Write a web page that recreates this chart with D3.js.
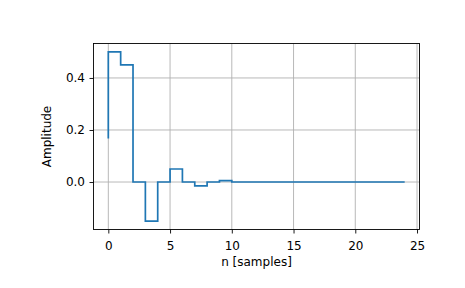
<!DOCTYPE html>
<html>
<head>
<meta charset="utf-8">
<script src="https://cdn.jsdelivr.net/npm/d3@7"></script>
<style>
  body { margin: 0; background: #fff; }
  text { font-family: "DejaVu Sans", sans-serif; }
</style>
</head>
<body>
<div id="chart"></div>
<script>
var width = 465, height = 288;
var margin = {top: 43.5, right: 45.5, bottom: 58.5, left: 93.5};
var fontSize = "12px";

// impulse response, step plot (where='pre')
var samples = d3.range(0, 25);
var amplitude = [0.167, 0.5, 0.45, 0, -0.15, 0, 0.05, 0, -0.015, 0, 0.005,
                 0, 0, 0, 0, 0, 0, 0, 0, 0, 0, 0, 0, 0, 0];
var xTicks = [0, 5, 10, 15, 20, 25];
var yTicks = [0.0, 0.2, 0.4];

var iw = width - margin.left - margin.right,
    ih = height - margin.top - margin.bottom;

var svg = d3.select("#chart").append("svg")
  .attr("width", width)
  .attr("height", height);

var g = svg.append("g")
  .attr("transform", "translate(" + margin.left + "," + margin.top + ")");

// matplotlib style 5% margins
var xmin = d3.min(samples), xmax = d3.max(samples);
var ymin = d3.min(amplitude), ymax = d3.max(amplitude);
var xpad = (xmax - xmin) * 0.05, ypad = (ymax - ymin) * 0.05;

var x = d3.scaleLinear().domain([xmin - xpad, xmax + xpad]).range([0, iw]);
var y = d3.scaleLinear().domain([ymin - ypad, ymax + ypad]).range([ih, 0]);

// grid
g.selectAll(".xgrid").data(xTicks).enter().append("line")
  .attr("x1", function(d) { return x(d); })
  .attr("x2", function(d) { return x(d); })
  .attr("y1", 0).attr("y2", ih)
  .style("stroke", "#b0b0b0").style("stroke-width", 0.9);
g.selectAll(".ygrid").data(yTicks).enter().append("line")
  .attr("y1", function(d) { return y(d); })
  .attr("y2", function(d) { return y(d); })
  .attr("x1", 0).attr("x2", iw)
  .style("stroke", "#b0b0b0").style("stroke-width", 0.9);

// step line
var line = d3.line()
  .x(function(d, i) { return x(samples[i]); })
  .y(function(d) { return y(d); })
  .curve(d3.curveStepBefore);

g.append("path")
  .datum(amplitude)
  .attr("d", line)
  .style("fill", "none")
  .style("stroke", "#1f77b4")
  .style("stroke-width", 1.7)
  .style("stroke-linejoin", "miter")
  .style("stroke-linecap", "butt");

// axes
var xAxis = g.append("g")
  .attr("transform", "translate(0," + ih + ")")
  .call(d3.axisBottom(x).tickValues(xTicks).tickSize(4).tickPadding(7.5).tickFormat(d3.format("d")));
var yAxis = g.append("g")
  .call(d3.axisLeft(y).tickValues(yTicks).tickSize(4).tickPadding(4.5).tickFormat(d3.format(".1f")));

[xAxis, yAxis].forEach(function(a) {
  a.select(".domain").remove();
  a.selectAll(".tick line").style("stroke", "#000").style("stroke-width", 0.9);
  a.selectAll(".tick text").style("font-size", fontSize).style("fill", "#000")
    .style("font-family", "'DejaVu Sans', sans-serif");
});

// frame
g.append("rect")
  .attr("width", iw).attr("height", ih)
  .style("fill", "none").style("stroke", "#000").style("stroke-width", 0.9);

// labels
svg.append("text")
  .attr("x", margin.left + iw / 2)
  .attr("y", 266)
  .attr("text-anchor", "middle")
  .style("font-size", fontSize)
  .text("n [samples]");

svg.append("text")
  .attr("transform", "translate(51," + (margin.top + ih / 2) + ") rotate(-90)")
  .attr("text-anchor", "middle")
  .style("font-size", fontSize)
  .text("Amplitude");
</script>
</body>
</html>
